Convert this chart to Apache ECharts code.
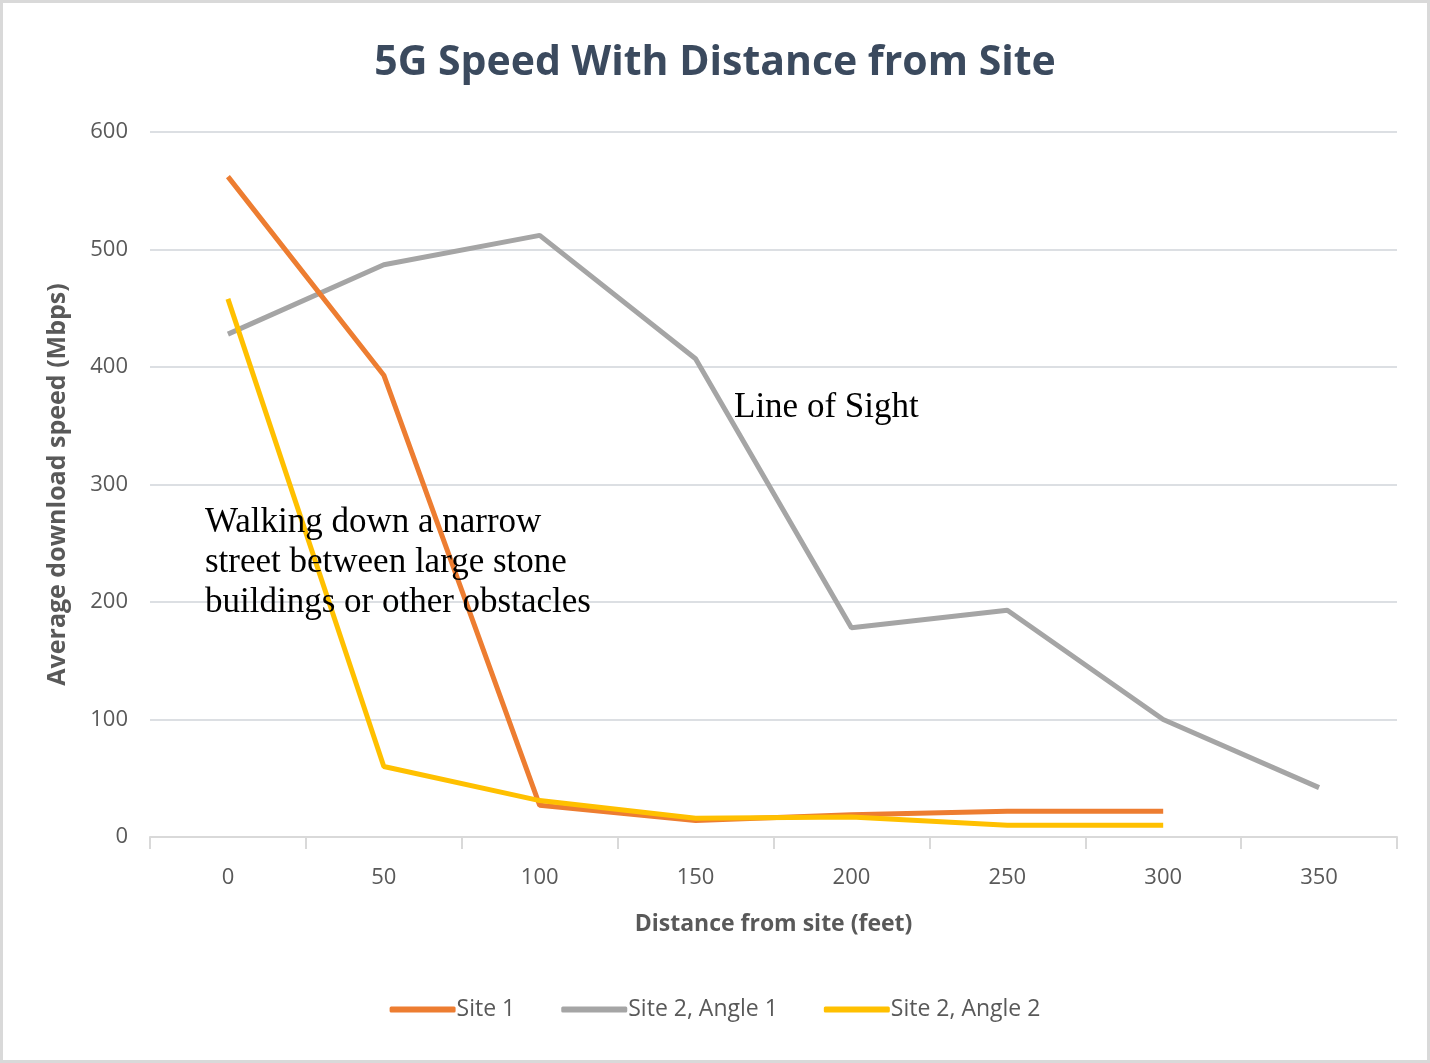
<!DOCTYPE html>
<html><head><meta charset="utf-8">
<script src="https://cdn.jsdelivr.net/npm/echarts@6/dist/echarts.min.js"></script>
<style>html,body{margin:0;padding:0;background:#fff}#c{width:1430px;height:1063px;box-sizing:border-box;border:3px solid #d9d9d9}</style>
</head><body><div id="c"></div>
<script>
const categories = ['0','50','100','150','200','250','300','350'];
const site1 = [562, 393, 27, 14, 19, 22, 22, null];
const site2Angle1 = [428, 487, 512, 407, 178, 193, 100, 42];
const site2Angle2 = [458, 60, 31, 16, 17, 10, 10, null];
const yTicks = [0, 100, 200, 300, 400, 500, 600];

const chart = echarts.init(document.getElementById('c'));
const axisColor = '#595959';
const font = 'Open Sans';
chart.setOption({
  animation: false,
  backgroundColor: '#fff',
  title: {
    text: '5G Speed With Distance from Site',
    left: 'center', top: 35,
    textStyle: {fontFamily: font, fontSize: 41, fontWeight: 'bold', color: '#3b4a5e'}
  },
  grid: {left: 147, right: 30, top: 129, bottom: 223},
  legend: {
    bottom: 34, left: 'center',
    itemWidth: 66, itemHeight: 6, itemGap: 46,
    icon: 'roundRect',
    textStyle: {fontFamily: font, fontSize: 23, color: axisColor, padding: [0,0,0,-4]},
    data: ['Site 1', 'Site 2, Angle 1', 'Site 2, Angle 2']
  },
  xAxis: {
    type: 'category', data: categories, boundaryGap: true,
    name: 'Distance from site (feet)', nameLocation: 'middle', nameGap: 76,
    nameTextStyle: {fontFamily: font, fontSize: 23, fontWeight: 'bold', color: axisColor},
    axisLine: {lineStyle: {color: '#d9d9d9', width: 2}},
    axisTick: {show: true, length: 12, lineStyle: {color: '#d9d9d9', width: 2}},
    axisLabel: {fontFamily: font, fontSize: 22, color: axisColor, margin: 30}
  },
  yAxis: {
    type: 'value', min: yTicks[0], max: yTicks[yTicks.length-1], interval: 100,
    name: 'Average download speed (Mbps)', nameLocation: 'middle', nameGap: 80,
    nameTextStyle: {fontFamily: font, fontSize: 25, fontWeight: 'bold', color: axisColor},
    axisLine: {show: false}, axisTick: {show: false},
    axisLabel: {fontFamily: font, fontSize: 22, color: axisColor, margin: 22},
    splitLine: {lineStyle: {color: '#dcdfe3', width: 2}}
  },
  series: [
    {name: 'Site 1', type: 'line', data: site1, symbol: 'none', lineStyle: {width: 5, color: '#ED7D31'}, itemStyle: {color: '#ED7D31'}, z: 3},
    {name: 'Site 2, Angle 1', type: 'line', data: site2Angle1, symbol: 'none', lineStyle: {width: 5, color: '#A5A5A5'}, itemStyle: {color: '#A5A5A5'}, z: 2},
    {name: 'Site 2, Angle 2', type: 'line', data: site2Angle2, symbol: 'none', lineStyle: {width: 5, color: '#FFC000'}, itemStyle: {color: '#FFC000'}, z: 4}
  ],
  graphic: [
    {type: 'text', left: 731, top: 387, z: 10, style: {text: 'Line of Sight', font: '35px "Liberation Serif"', fill: '#000'}},
    {type: 'text', left: 202, top: 500, z: 10, style: {text: 'Walking down a narrow\nstreet between large stone\nbuildings or other obstacles', font: '35px "Liberation Serif"', lineHeight: 40, fill: '#000'}}
  ]
});
</script></body></html>
